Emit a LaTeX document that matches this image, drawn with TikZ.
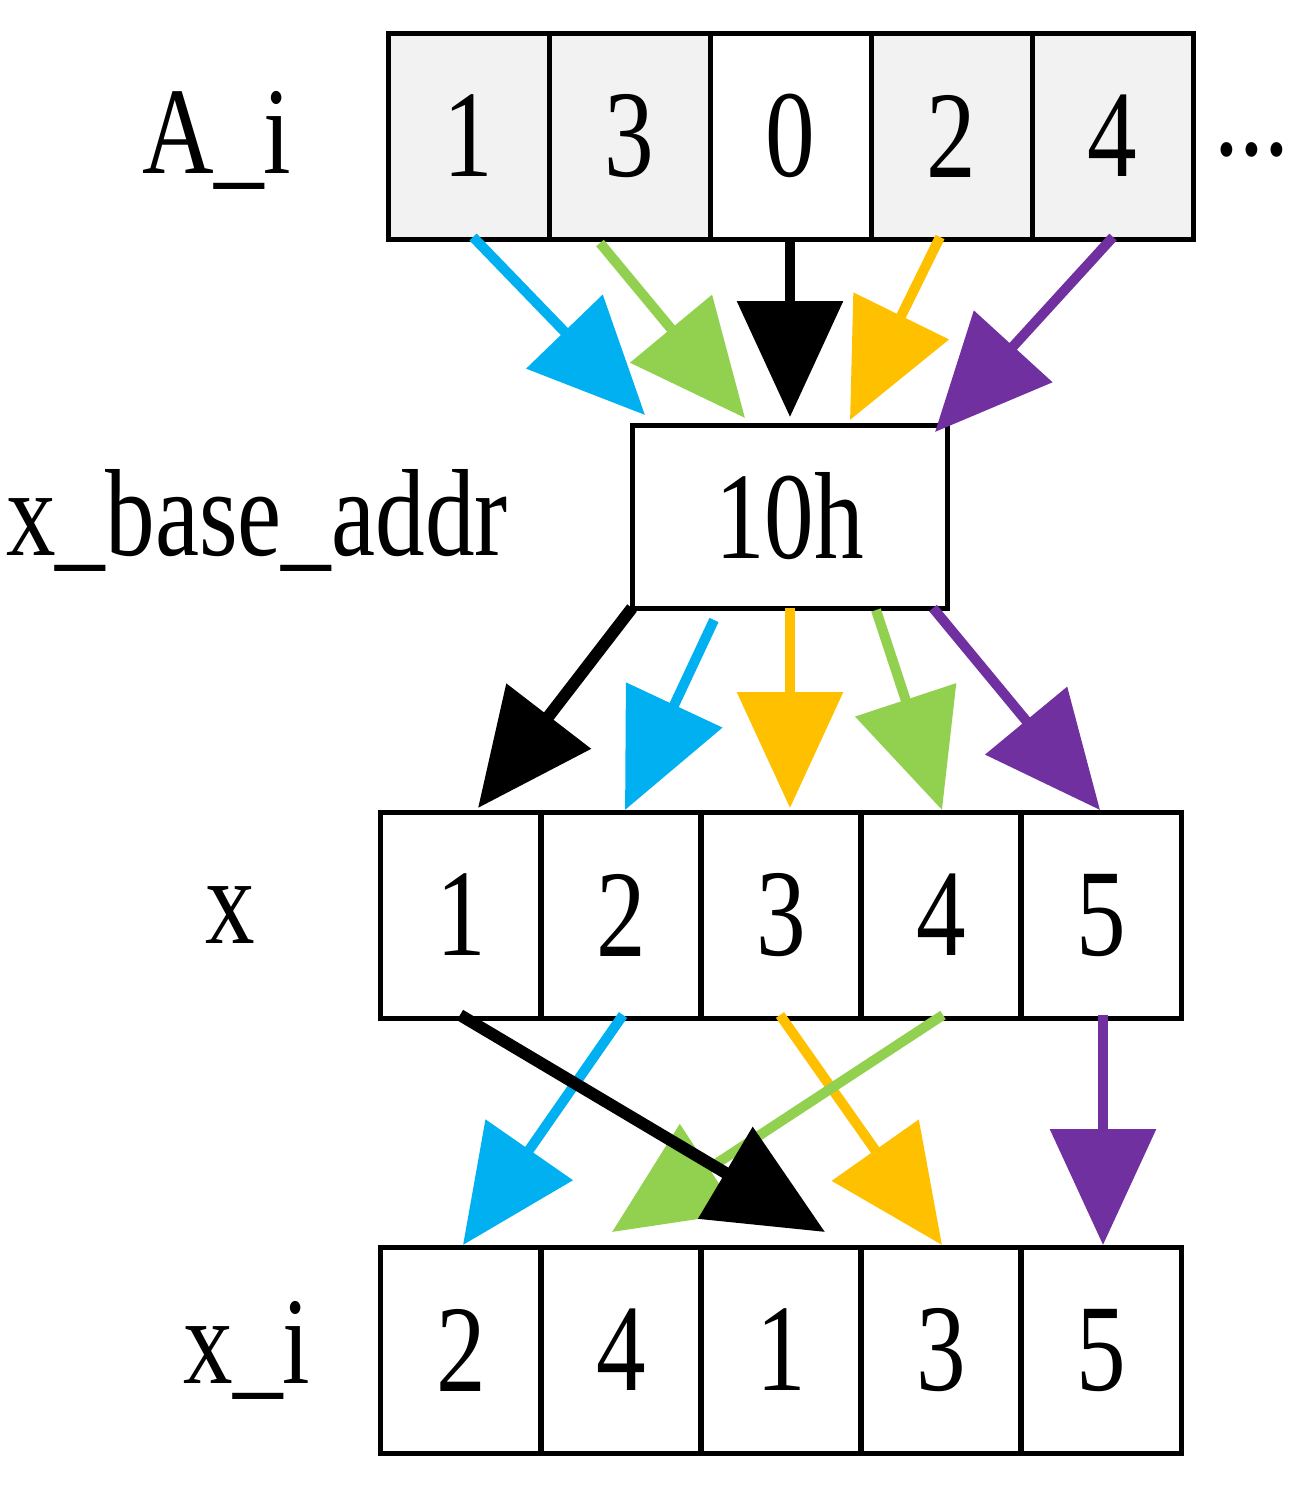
\documentclass[tikz,border=0pt]{standalone}
\usepackage{fontspec}
\setmainfont[FakeStretch=0.8]{Liberation Serif}
\usetikzlibrary{arrows.meta}
\definecolor{cy}{HTML}{00B0F0}
\definecolor{gr}{HTML}{92D050}
\definecolor{ye}{HTML}{FFC000}
\definecolor{pu}{HTML}{7030A0}
\definecolor{lg}{HTML}{F2F2F2}
\begin{document}
\begin{tikzpicture}[x=0.5pt,y=-0.5pt,
  cell/.style={draw,line width=2.5pt,minimum width=80.5pt,minimum height=103pt,inner sep=0pt,font=\fontsize{62}{62}\selectfont},
  lbl/.style={font=\fontsize{62}{62}\selectfont,inner sep=0pt},
  arr/.style={line width=5pt,-{Triangle[length=58pt,width=52pt]}}]
\useasboundingbox (0,0) rectangle (1310,1488);
% top array
\foreach \v/\f [count=\i] in {1/lg,3/lg,0/white,2/lg,4/lg}
  \node[cell,fill=\f] (a\i) at ({388+80.5+161*(\i-1)},136) {\v};
\node[lbl] (la) at (217,140) {A\_i};
\node[lbl] (dots) at (1252,150) {...};
% box
\node[cell,minimum width=157.5pt,minimum height=91.5pt] (b) at (789.5,516.5) {10h};
\node[lbl] (lb) at (257,520) {x\_base\_addr};
% x array
\foreach \v [count=\i] in {1,2,3,4,5}
  \node[cell] (x\i) at ({381+80+160*(\i-1)},915) {\v};
\node[lbl] (lx) at (230,915) {x};
% x_i array
\foreach \v [count=\i] in {2,4,1,3,5}
  \node[cell] (y\i) at ({381+80+160*(\i-1)},1350) {\v};
\node[lbl] (ly) at (247,1350) {x\_i};
% coordinates
\coordinate (s1) at (473,237); \coordinate (t1) at (645,415);
\coordinate (s2) at (600,243); \coordinate (t2) at (745,418);
\coordinate (s3) at (790,237); \coordinate (t3) at (790,417);
\coordinate (s4) at (940,237); \coordinate (t4) at (850,420);
\coordinate (s5) at (1113,237); \coordinate (t5) at (935,432);
\coordinate (u1) at (632,608); \coordinate (v1) at (478,808);
\coordinate (u2) at (714,620); \coordinate (v2) at (625,810);
\coordinate (u3) at (790,608); \coordinate (v3) at (790,808);
\coordinate (u4) at (876,610); \coordinate (v4) at (942,810);
\coordinate (u5) at (933,608); \coordinate (v5) at (1100,810);
\coordinate (p1) at (460,1015); \coordinate (q1) at (825,1232);
\coordinate (p2) at (623,1015); \coordinate (q2) at (463,1245);
\coordinate (p3) at (780,1015); \coordinate (q3) at (942,1245);
\coordinate (p4) at (943,1015); \coordinate (q4) at (612,1232);
\coordinate (p5) at (1103,1015); \coordinate (q5) at (1103,1245);
\draw[arr,cy] (s1) -- (t1);
\draw[arr,gr] (s2) -- (t2);
\draw[arr,black] (s3) -- (t3);
\draw[arr,ye] (s4) -- (t4);
\draw[arr,pu] (s5) -- (t5);
\draw[arr,black,line width=6pt] (u1) -- (v1);
\draw[arr,cy] (u2) -- (v2);
\draw[arr,ye] (u3) -- (v3);
\draw[arr,gr] (u4) -- (v4);
\draw[arr,pu] (u5) -- (v5);
\draw[arr,cy] (p2) -- (q2);
\draw[arr,ye] (p3) -- (q3);
\draw[arr,gr] (p4) -- (q4);
\draw[arr,black,line width=6pt] (p1) -- (q1);
\draw[arr,pu] (p5) -- (q5);
\end{tikzpicture}
\end{document}
